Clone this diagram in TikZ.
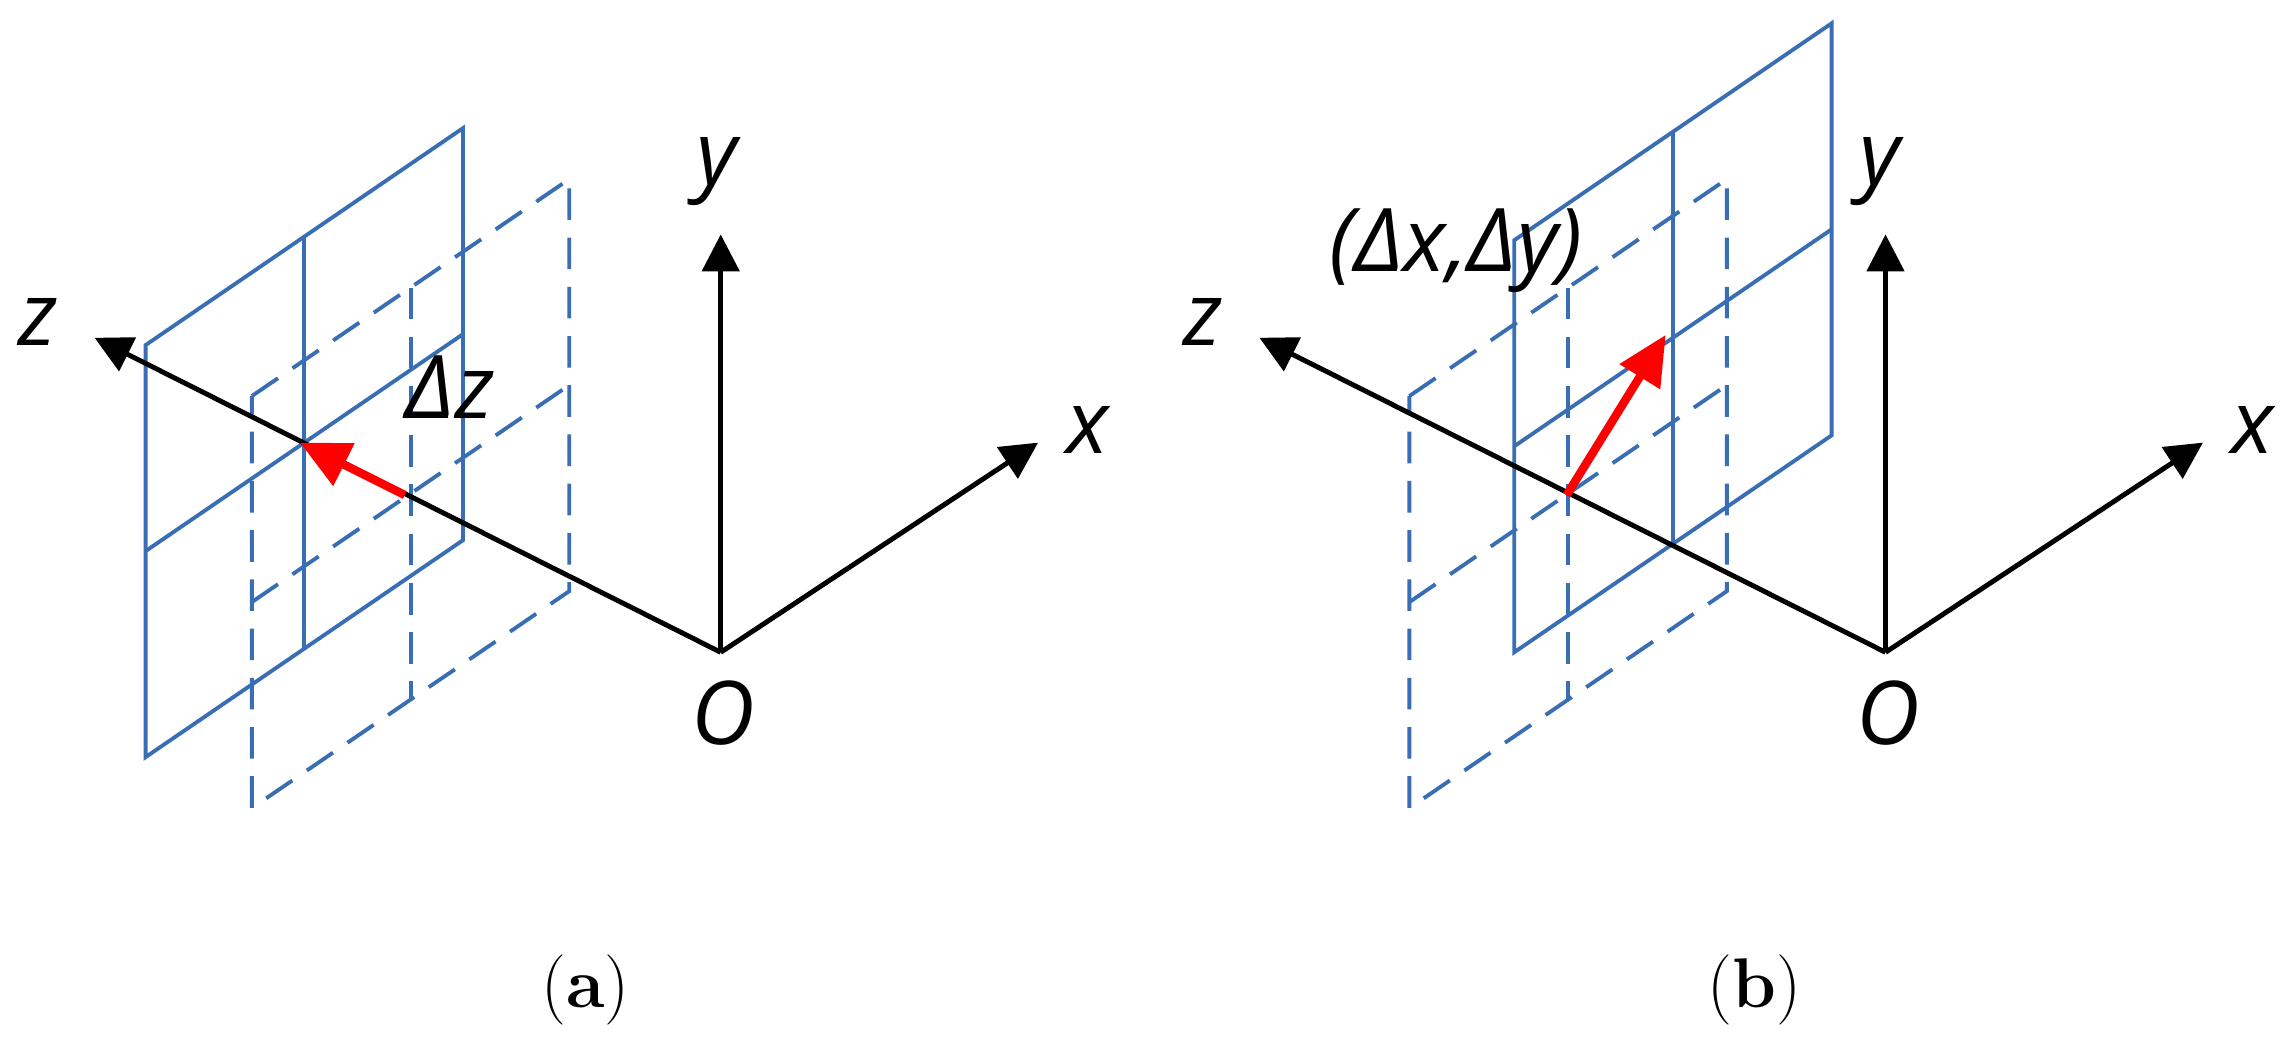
\documentclass[tikz,border=0pt]{standalone}
\usepackage{fontspec}
\newfontfamily\lab{Open Sans}
\usetikzlibrary{arrows.meta}
\definecolor{pb}{RGB}{58,110,180}
\tikzset{ax/.style={line width=1.4pt,-{Triangle[length=10.5pt,width=10.5pt]}},
 pl/.style={pb,line width=1.1pt},
 dpl/.style={pb,line width=1.1pt,dash pattern=on 9pt off 5pt},
 redarr/.style={red,line width=2.4pt,-{Triangle[length=14pt,width=13pt]}},
 lb/.style={font=\lab\itshape\fontsize{25}{29}\selectfont},
 captext/.style={font=\fontsize{20}{24}\selectfont}}
\newcommand\plane[3]{% style, L, T
 \draw[#1] (#2,#3) -- ({#2+218},{#3-149}) -- ({#2+218},{#3+134}) -- (#2,{#3+283}) -- cycle;
 \draw[#1] ({#2+109},{#3-74.5}) -- ({#2+109},{#3+208.5});
 \draw[#1] (#2,{#3+141.5}) -- ({#2+218},{#3-7.5});}
\begin{document}
\begin{tikzpicture}[x=0.01456cm,y=-0.01456cm]
\useasboundingbox (0,0) rectangle (1568,725);
% panel a
\plane{dpl}{173}{272}
\plane{pl}{100}{237}
\coordinate (Oa) at (495,448);
\coordinate (ya) at (495,161);
\coordinate (xa) at (713,304);
\coordinate (za) at (65,232);
\draw[ax] (Oa) -- (ya);
\draw[ax] (Oa) -- (xa);
\draw[ax] (Oa) -- (za);
\coordinate (ra1) at (278,340);
\coordinate (ra2) at (206,304);
\draw[redarr] (ra1) -- (ra2);
\node[lb] (lya) at (492,118) {y};
\node[lb] (lxa) at (747,295) {x};
\node[lb] (lza) at (26,221) {z};
\node[lb] (loa) at (497,490) {O};
\node[lb] (ldz) at (309,266) {Δz};
\node[captext] (capa) at (402,680) {(\textbf{a})};
% panel b
\plane{dpl}{968}{272}
\plane{pl}{1040}{165}
\coordinate (Ob) at (1295,448);
\coordinate (yb) at (1295,161);
\coordinate (xb) at (1513,304);
\coordinate (zb) at (865,232);
\draw[ax] (Ob) -- (yb);
\draw[ax] (Ob) -- (xb);
\draw[ax] (Ob) -- (zb);
\coordinate (rb1) at (1076,340);
\coordinate (rb2) at (1144,230);
\draw[redarr] (rb1) -- (rb2);
\node[lb] (lyb) at (1291,118) {y};
\node[lb] (lxb) at (1547,295) {x};
\node[lb] (lzb) at (826,221) {z};
\node[lb] (lob) at (1297,490) {O};
\node[lb] (ldxy) at (1000,172) {(Δx,Δy)};
\node[captext] (capb) at (1205,680) {(\textbf{b})};
\end{tikzpicture}
\end{document}
